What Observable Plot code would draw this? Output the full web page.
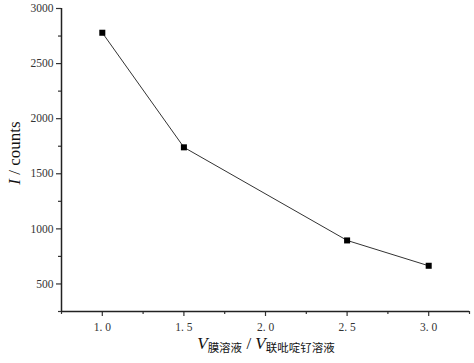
<!DOCTYPE html>
<html>
<head>
<meta charset="utf-8">
<script src="https://cdn.jsdelivr.net/npm/d3@7"></script>
<script src="https://cdn.jsdelivr.net/npm/@observablehq/plot@0.6"></script>
<style>
  body { margin: 0; background: #fff; }
  #chart svg { display: block; }
</style>
</head>
<body>
<div id="chart"></div>
<script>
const ratios = [1.0, 1.5, 2.5, 3.0];
const counts = [2780, 1740, 895, 665];
const xTicks = [1.0, 1.5, 2.0, 2.5, 3.0];
const xMinor = [0.75, 1.25, 1.75, 2.25, 2.75, 3.25];
const yTicks = [500, 1000, 1500, 2000, 2500, 3000];
const yMinor = [250, 750, 1250, 1750, 2250, 2750];

const data = ratios.map((r, i) => ({r, c: counts[i]}));
const serif = "'Liberation Serif', 'DejaVu Serif', serif";

const plot = Plot.plot({
  width: 474,
  height: 363,
  marginLeft: 61,
  marginRight: 5,
  marginTop: 8,
  marginBottom: 52,
  style: {fontFamily: serif, fontSize: "11px", color: "#333", background: "#fff"},
  x: {domain: [0.75, 3.25]},
  y: {domain: [250, 3000]},
  marks: [
    Plot.axisX({ticks: xTicks, tickSize: 5, tickPadding: 6, tickFormat: d => d.toFixed(1).replace(".", ". "), label: null, fontSize: 11.5, strokeWidth: 1.2}),
    Plot.axisX({ticks: xMinor, tickSize: 3, text: null, label: null, strokeWidth: 1.2}),
    Plot.axisY({ticks: yTicks, tickSize: 5, tickPadding: 3, tickFormat: d => String(d), label: null, fontSize: 11.5, strokeWidth: 1.2}),
    Plot.axisY({ticks: yMinor, tickSize: 3, text: null, label: null, strokeWidth: 1.2}),
    Plot.ruleX([0.75], {stroke: "#222", strokeWidth: 1.5}),
    Plot.ruleY([250], {stroke: "#222", strokeWidth: 1.5}),
    Plot.line(data, {x: "r", y: "c", stroke: "#333", strokeWidth: 1}),
    Plot.dot(data, {x: "r", y: "c", symbol: "square", r: 3.4, fill: "#000", stroke: "none"})
  ]
});

const svg = d3.select(plot);
// Y label
const yl = svg.append("text")
  .attr("transform", "translate(20,153) rotate(-90)")
  .attr("text-anchor", "middle")
  .attr("font-family", serif)
  .attr("font-size", 17)
  .attr("fill", "#111");
yl.append("tspan").attr("font-style", "italic").text("I");
yl.append("tspan").text(" / counts");

// X label
const cjk = "'Noto Sans CJK SC', sans-serif";
const xl = svg.append("text")
  .attr("x", 266)
  .attr("y", 349)
  .attr("text-anchor", "middle")
  .attr("font-family", serif)
  .attr("font-size", 17)
  .attr("fill", "#111");
xl.append("tspan").attr("font-style", "italic").text("V");
xl.append("tspan").attr("font-family", cjk).attr("font-size", 11.5).attr("dy", 3).text("膜溶液");
xl.append("tspan").attr("dy", -3).text(" / ");
xl.append("tspan").attr("font-style", "italic").text("V");
xl.append("tspan").attr("font-family", cjk).attr("font-size", 11.5).attr("dy", 3).text("联吡啶钌溶液");

document.getElementById("chart").appendChild(plot);
</script>
</body>
</html>
